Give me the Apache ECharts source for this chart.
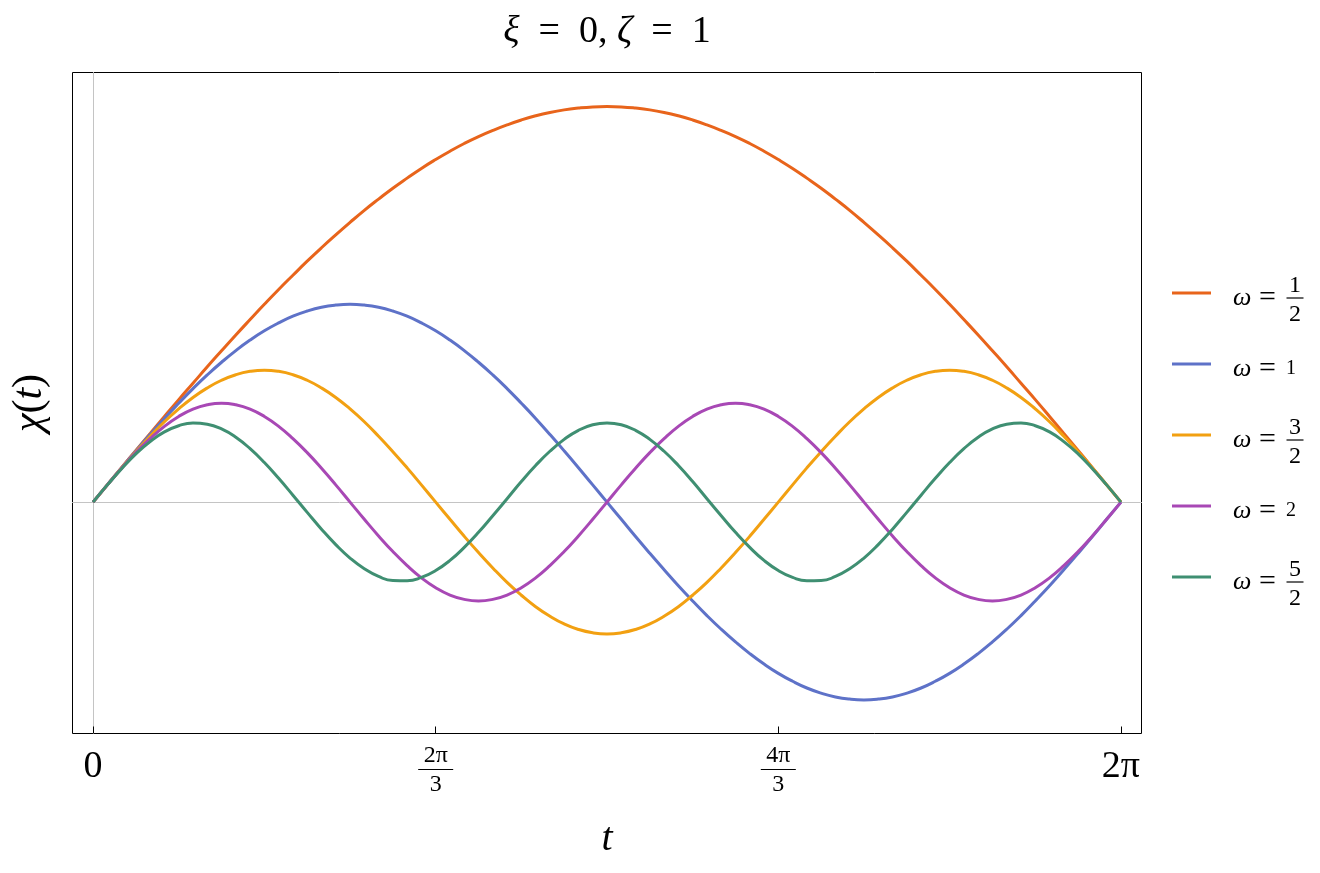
<!DOCTYPE html>
<html>
<head>
<meta charset="utf-8">
<script src="https://cdn.jsdelivr.net/npm/echarts@6/dist/echarts.min.js"></script>
<style>
  html, body { margin: 0; padding: 0; background: #fff; }
  #chart { width: 1320px; height: 873px; }
</style>
</head>
<body>
<div id="chart"></div>
<script>
// ---- data (t in radians, 5° steps) ----
const tValues = [0, 0.0873, 0.1745, 0.2618, 0.3491, 0.4363, 0.5236, 0.6109, 0.6981, 0.7854, 0.8727, 0.9599, 1.0472, 1.1345, 1.2217, 1.3090, 1.3963, 1.4835, 1.5708, 1.6581, 1.7453, 1.8326, 1.9199, 2.0071, 2.0944, 2.1817, 2.2689, 2.3562, 2.4435, 2.5307, 2.6180, 2.7053, 2.7925, 2.8798, 2.9671, 3.0543, 3.1416, 3.2289, 3.3161, 3.4034, 3.4907, 3.5779, 3.6652, 3.7525, 3.8397, 3.9270, 4.0143, 4.1015, 4.1888, 4.2761, 4.3633, 4.4506, 4.5379, 4.6251, 4.7124, 4.7997, 4.8869, 4.9742, 5.0615, 5.1487, 5.2360, 5.3233, 5.4105, 5.4978, 5.5851, 5.6723, 5.7596, 5.8469, 5.9341, 6.0214, 6.1087, 6.1959, 6.2832];

const chiHalf = [0, 0.087, 0.174, 0.261, 0.347, 0.433, 0.518, 0.601, 0.684, 0.765, 0.845, 0.923, 1.0, 1.075, 1.147, 1.218, 1.286, 1.351, 1.414, 1.475, 1.532, 1.587, 1.638, 1.687, 1.732, 1.774, 1.813, 1.848, 1.879, 1.907, 1.932, 1.953, 1.970, 1.983, 1.992, 1.998, 2.0, 1.998, 1.992, 1.983, 1.970, 1.953, 1.932, 1.907, 1.879, 1.848, 1.813, 1.774, 1.732, 1.687, 1.638, 1.587, 1.532, 1.475, 1.414, 1.351, 1.286, 1.218, 1.147, 1.075, 1.0, 0.923, 0.845, 0.765, 0.684, 0.601, 0.518, 0.433, 0.347, 0.261, 0.174, 0.087, 0];
const chiOne = [0, 0.087, 0.174, 0.259, 0.342, 0.423, 0.5, 0.574, 0.643, 0.707, 0.766, 0.819, 0.866, 0.906, 0.940, 0.966, 0.985, 0.996, 1.0, 0.996, 0.985, 0.966, 0.940, 0.906, 0.866, 0.819, 0.766, 0.707, 0.643, 0.574, 0.5, 0.423, 0.342, 0.259, 0.174, 0.087, 0, -0.087, -0.174, -0.259, -0.342, -0.423, -0.5, -0.574, -0.643, -0.707, -0.766, -0.819, -0.866, -0.906, -0.940, -0.966, -0.985, -0.996, -1.0, -0.996, -0.985, -0.966, -0.940, -0.906, -0.866, -0.819, -0.766, -0.707, -0.643, -0.574, -0.5, -0.423, -0.342, -0.259, -0.174, -0.087, 0];
const chiThreeHalves = [0, 0.087, 0.173, 0.255, 0.333, 0.406, 0.471, 0.529, 0.577, 0.616, 0.644, 0.661, 0.667, 0.661, 0.644, 0.616, 0.577, 0.529, 0.471, 0.406, 0.333, 0.255, 0.173, 0.087, 0, -0.087, -0.173, -0.255, -0.333, -0.406, -0.471, -0.529, -0.577, -0.616, -0.644, -0.661, -0.667, -0.661, -0.644, -0.616, -0.577, -0.529, -0.471, -0.406, -0.333, -0.255, -0.173, -0.087, 0, 0.087, 0.173, 0.255, 0.333, 0.406, 0.471, 0.529, 0.577, 0.616, 0.644, 0.661, 0.667, 0.661, 0.644, 0.616, 0.577, 0.529, 0.471, 0.406, 0.333, 0.255, 0.173, 0.087, 0];
const chiTwo = [0, 0.087, 0.171, 0.25, 0.321, 0.383, 0.433, 0.470, 0.492, 0.5, 0.492, 0.470, 0.433, 0.383, 0.321, 0.25, 0.171, 0.087, 0, -0.087, -0.171, -0.25, -0.321, -0.383, -0.433, -0.470, -0.492, -0.5, -0.492, -0.470, -0.433, -0.383, -0.321, -0.25, -0.171, -0.087, 0, 0.087, 0.171, 0.25, 0.321, 0.383, 0.433, 0.470, 0.492, 0.5, 0.492, 0.470, 0.433, 0.383, 0.321, 0.25, 0.171, 0.087, 0, -0.087, -0.171, -0.25, -0.321, -0.383, -0.433, -0.470, -0.492, -0.5, -0.492, -0.470, -0.433, -0.383, -0.321, -0.25, -0.171, -0.087, 0];
const chiFiveHalves = [0, 0.087, 0.169, 0.244, 0.306, 0.355, 0.386, 0.400, 0.394, 0.370, 0.328, 0.270, 0.2, 0.120, 0.035, -0.052, -0.137, -0.215, -0.283, -0.337, -0.376, -0.397, -0.398, -0.381, -0.346, -0.295, -0.229, -0.153, -0.069, 0.017, 0.104, 0.185, 0.257, 0.317, 0.363, 0.391, 0.4, 0.391, 0.363, 0.317, 0.257, 0.185, 0.104, 0.017, -0.069, -0.153, -0.229, -0.295, -0.346, -0.381, -0.398, -0.397, -0.376, -0.337, -0.283, -0.215, -0.137, -0.052, 0.035, 0.120, 0.2, 0.270, 0.328, 0.370, 0.394, 0.400, 0.386, 0.355, 0.306, 0.244, 0.169, 0.087, 0];

const seriesNames = ['ω = 1/2', 'ω = 1', 'ω = 3/2', 'ω = 2', 'ω = 5/2'];
const omegaNum = ['1', '1', '3', '2', '5'];
const omegaDen = ['2', '', '2', '', '2'];
const seriesValues = [chiHalf, chiOne, chiThreeHalves, chiTwo, chiFiveHalves];
const seriesColors = ['#e8641b', '#5e72c8', '#f2a011', '#a848b5', '#3f8f72'];

const tickValues = [0, 2.0944, 4.1888, 6.2832];
const tickNum = ['0', '2π', '4π', '2π'];
const tickDen = ['', '3', '3', ''];

const xMin = -0.1257, xMax = 6.4089;
const yMin = -1.17, yMax = 2.172;

// ---- chart ----
const SERIF = "'Liberation Serif', 'DejaVu Serif', serif";
const chart = echarts.init(document.getElementById('chart'), null, { renderer: 'canvas' });

const series = seriesValues.map((vals, i) => ({
  name: seriesNames[i],
  type: 'line',
  xAxisIndex: 0,
  yAxisIndex: 0,
  data: tValues.map((t, k) => [t, vals[k]]),
  smooth: true,
  showSymbol: false,
  symbol: 'none',
  color: seriesColors[i],
  lineStyle: { width: 3, color: seriesColors[i] },
  animation: false
}));

function legendFormatter(name) {
  const i = seriesNames.indexOf(name);
  if (omegaDen[i]) {
    return '{p| }{n|' + omegaNum[i] + '}\n{wi|ω}{eq|=}{b| }\n{p2| }{d|' + omegaDen[i] + '}';
  }
  return '{e1| }\n{wi|ω}{eq|=}{v|' + omegaNum[i] + '}\n{e2| }';
}

function tickFormatter(value) {
  let idx = 0, best = Infinity;
  tickValues.forEach((tv, j) => { const d = Math.abs(tv - value); if (d < best) { best = d; idx = j; } });
  if (tickDen[idx]) {
    return '{n|' + tickNum[idx] + '}\n{b| }\n{d|' + tickDen[idx] + '}';
  }
  return '{z|' + tickNum[idx] + '}';
}

const option = {
  backgroundColor: '#fff',
  animation: false,
  title: {
    text: '{i|ξ}{r|  =  0, }{i|ζ}{r|  =  1}',
    left: 607,
    top: 9,
    textAlign: 'center',
    padding: 0,
    textStyle: {
      fontWeight: 'normal',
      rich: {
        i: { fontFamily: SERIF, fontStyle: 'italic', fontWeight: 'normal', fontSize: 38, color: '#000', lineHeight: 46 },
        r: { fontFamily: SERIF, fontWeight: 'normal', fontSize: 38, color: '#000', lineHeight: 46 }
      }
    }
  },
  legend: {
    orient: 'vertical',
    left: 1172,
    top: 274,
    padding: 0,
    itemWidth: 39,
    itemHeight: 3,
    itemGap: 25,
    icon: 'rect',
    data: seriesNames,
    formatter: legendFormatter,
    textStyle: {
      padding: [20, 0, 0, 17],
      rich: {
        p: { width: 53, fontSize: 10, lineHeight: 14 },
        p2: { width: 53, fontSize: 10, lineHeight: 24 },
        n: { width: 18, align: 'center', fontFamily: SERIF, fontSize: 24, lineHeight: 14, color: '#000' },
        d: { width: 18, align: 'center', fontFamily: SERIF, fontSize: 24, lineHeight: 24, color: '#000' },
        b: { width: 17, height: 1.2, align: 'center', fontSize: 1, lineHeight: 10, backgroundColor: '#000' },
        wi: { width: 26, fontFamily: SERIF, fontStyle: 'italic', fontSize: 26, lineHeight: 10, color: '#000' },
        eq: { width: 27, fontFamily: SERIF, fontSize: 30, lineHeight: 10, color: '#000' },
        v: { fontFamily: SERIF, fontSize: 20, lineHeight: 10, color: '#000' },
        e1: { fontSize: 10, lineHeight: 14 },
        e2: { fontSize: 10, lineHeight: 24 }
      }
    }
  },
  grid: {
    left: 72.5,
    top: 72.5,
    right: 178.5,
    bottom: 139.5,
    show: true,
    borderColor: '#000',
    borderWidth: 1,
    backgroundColor: 'transparent'
  },
  xAxis: [
    {
      type: 'value',
      min: xMin,
      max: xMax,
      position: 'bottom',
      axisLine: { show: true, onZero: true, lineStyle: { color: '#c4c4c4', width: 1 } },
      axisTick: { show: false },
      axisLabel: { show: false },
      splitLine: { show: false }
    },
    {
      type: 'value',
      min: xMin,
      max: xMax,
      position: 'bottom',
      axisLine: { show: false, onZero: false },
      axisTick: { show: true, inside: true, length: 7, customValues: tickValues, lineStyle: { color: '#000', width: 1 } },
      axisLabel: {
        show: true,
        customValues: tickValues,
        margin: 12,
        formatter: tickFormatter,
        rich: {
          n: { fontFamily: SERIF, fontSize: 24, lineHeight: 20, align: 'center', color: '#000' },
          b: { width: 35, height: 1.2, fontSize: 1, lineHeight: 8, align: 'center', backgroundColor: '#000' },
          d: { fontFamily: SERIF, fontSize: 24, lineHeight: 22, align: 'center', color: '#000' },
          z: { fontFamily: SERIF, fontSize: 38, lineHeight: 44, align: 'center', color: '#000' }
        }
      },
      splitLine: { show: false },
      name: '{i|t}',
      nameLocation: 'middle',
      nameGap: 82,
      nameTextStyle: {
        rich: { i: { fontFamily: SERIF, fontStyle: 'italic', fontSize: 40, lineHeight: 48, color: '#000' } }
      }
    }
  ],
  yAxis: [
    {
      type: 'value',
      min: yMin,
      max: yMax,
      axisLine: { show: true, onZero: true, lineStyle: { color: '#c4c4c4', width: 1 } },
      axisTick: { show: false },
      axisLabel: { show: false },
      splitLine: { show: false }
    },
    {
      type: 'value',
      min: yMin,
      max: yMax,
      position: 'left',
      axisLine: { show: false, onZero: false },
      axisTick: { show: false },
      axisLabel: { show: false },
      splitLine: { show: false },
      name: '{i|χ}{r|(}{i|t}{r|)}',
      nameLocation: 'middle',
      nameRotate: 90,
      nameGap: 19,
      nameTextStyle: {
        rich: {
          i: { fontFamily: SERIF, fontStyle: 'italic', fontSize: 42, lineHeight: 48, color: '#000' },
          r: { fontFamily: SERIF, fontSize: 42, lineHeight: 48, color: '#000' }
        }
      }
    }
  ],
  series: series
};

chart.setOption(option);
</script>
</body>
</html>
